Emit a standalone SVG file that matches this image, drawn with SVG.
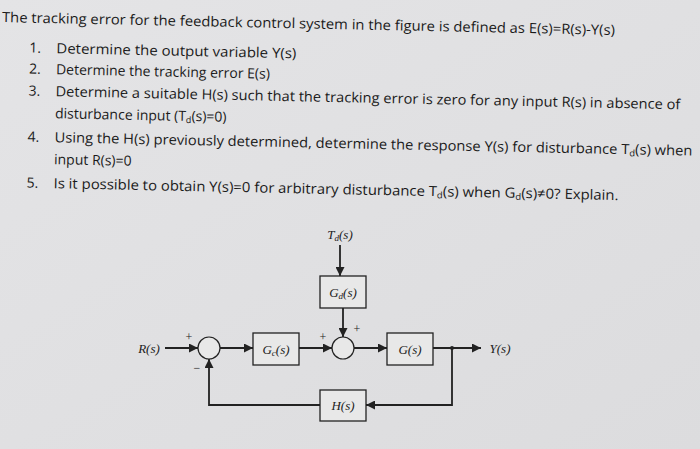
<svg xmlns="http://www.w3.org/2000/svg" width="700" height="449" viewBox="0 0 700 449">
<defs>
<linearGradient id="bg" x1="0" y1="0" x2="1" y2="1"><stop offset="0" stop-color="#e4e4e6"/><stop offset="1" stop-color="#dcdcde"/></linearGradient>
<marker id="ar" viewBox="0 0 10 10" refX="10" refY="5" markerWidth="9" markerHeight="9" markerUnits="userSpaceOnUse" orient="auto"><path d="M0,0 L10,5 L0,10 z" fill="#222"/></marker>
</defs>
<style>
.q{font-family:"Open Sans",sans-serif;font-size:14px;fill:#1a1a1a}
.d{font-family:"Liberation Serif",serif;font-size:13px;font-style:italic;fill:#222}
.s{font-family:"Liberation Serif",serif;font-size:12px;fill:#222}
.b{fill:#e8e8e8;stroke:#222;stroke-width:1.3}
.c{fill:#e8e8e8;stroke:#222;stroke-width:1.2}
.l{fill:none;stroke:#222;stroke-width:1.8}
</style>
<rect width="700" height="449" fill="url(#bg)"/>
<g transform="rotate(1.2 0 20)">
<text class="q" x="2" y="22" textLength="613" lengthAdjust="spacingAndGlyphs">The tracking error for the feedback control system in the figure is defined as E(s)=R(s)-Y(s)</text>
<text class="q" x="30" y="52">1.</text><text class="q" x="57" y="52" textLength="240" lengthAdjust="spacingAndGlyphs">Determine the output variable Y(s)</text>
<text class="q" x="30" y="73">2.</text><text class="q" x="57" y="73">Determine the tracking error E(s)</text>
<text class="q" x="30" y="95">3.</text><text class="q" x="57" y="95" textLength="625" lengthAdjust="spacingAndGlyphs">Determine a suitable H(s) such that the tracking error is zero for any input R(s) in absence of</text>
<text class="q" x="57" y="117">disturbance input (T<tspan font-size="9" dy="2">d</tspan><tspan dy="-2">(s)=0)</tspan></text>
<text class="q" x="30" y="141">4.</text><text class="q" x="57" y="141" textLength="638" lengthAdjust="spacingAndGlyphs">Using the H(s) previously determined, determine the response Y(s) for disturbance T<tspan font-size="9" dy="2">d</tspan><tspan dy="-2">(s) when</tspan></text>
<text class="q" x="57" y="163">input R(s)=0</text>
<text class="q" x="30" y="187">5.</text><text class="q" x="57" y="187" textLength="565" lengthAdjust="spacingAndGlyphs">Is it possible to obtain Y(s)=0 for arbitrary disturbance T<tspan font-size="9" dy="2">d</tspan><tspan dy="-2">(s) when G</tspan><tspan font-size="9" dy="2">d</tspan><tspan dy="-2">(s)≠0? Explain.</tspan></text>
</g>
<g id="connectors">
<line class="l" x1="340" y1="245" x2="340" y2="276" marker-end="url(#ar)"/>
<line class="l" x1="343" y1="308" x2="343" y2="337" marker-end="url(#ar)"/>
<line class="l" x1="165" y1="348" x2="198" y2="348" marker-end="url(#ar)"/>
<line class="l" x1="220" y1="348" x2="253" y2="348" marker-end="url(#ar)"/>
<line class="l" x1="299" y1="348" x2="332" y2="348" marker-end="url(#ar)"/>
<line class="l" x1="354" y1="348" x2="387" y2="348" marker-end="url(#ar)"/>
<line class="l" x1="433" y1="348" x2="481" y2="348" marker-end="url(#ar)"/>
<polyline class="l" points="452,348 452,405 366,405" marker-end="url(#ar)"/>
<polyline class="l" points="320,405 209,405 209,359" marker-end="url(#ar)"/>
<circle cx="452" cy="348" r="2" fill="#222"/>
</g>
<g id="Td"><text class="d" x="340" y="239" text-anchor="middle">T<tspan font-size="9" dy="2">d</tspan><tspan dy="-2">(s)</tspan></text></g>
<g id="Gd"><rect class="b" x="320" y="276" width="46" height="32"/><text class="d" x="343" y="297" text-anchor="middle">G<tspan font-size="9" dy="2">d</tspan><tspan dy="-2">(s)</tspan></text></g>
<g id="R"><text class="d" x="149" y="353" text-anchor="middle">R(s)</text></g>
<g id="sum1"><circle class="c" cx="209" cy="348" r="11"/><text class="s" x="189" y="341" text-anchor="middle">+</text><text class="s" x="197" y="372" text-anchor="middle">−</text></g>
<g id="Gc"><rect class="b" x="253" y="333" width="46" height="32"/><text class="d" x="276" y="354" text-anchor="middle">G<tspan font-size="9" dy="2">c</tspan><tspan dy="-2">(s)</tspan></text></g>
<g id="sum2"><circle class="c" cx="343" cy="348" r="11"/><text class="s" x="323" y="341" text-anchor="middle">+</text><text class="s" x="357" y="333" text-anchor="middle">+</text></g>
<g id="G"><rect class="b" x="387" y="333" width="46" height="32"/><text class="d" x="410" y="354" text-anchor="middle">G(s)</text></g>
<g id="Y"><text class="d" x="500" y="353" text-anchor="middle">Y(s)</text></g>
<g id="H"><rect class="b" x="320" y="390" width="46" height="31"/><text class="d" x="343" y="410" text-anchor="middle">H(s)</text></g>
</svg>
